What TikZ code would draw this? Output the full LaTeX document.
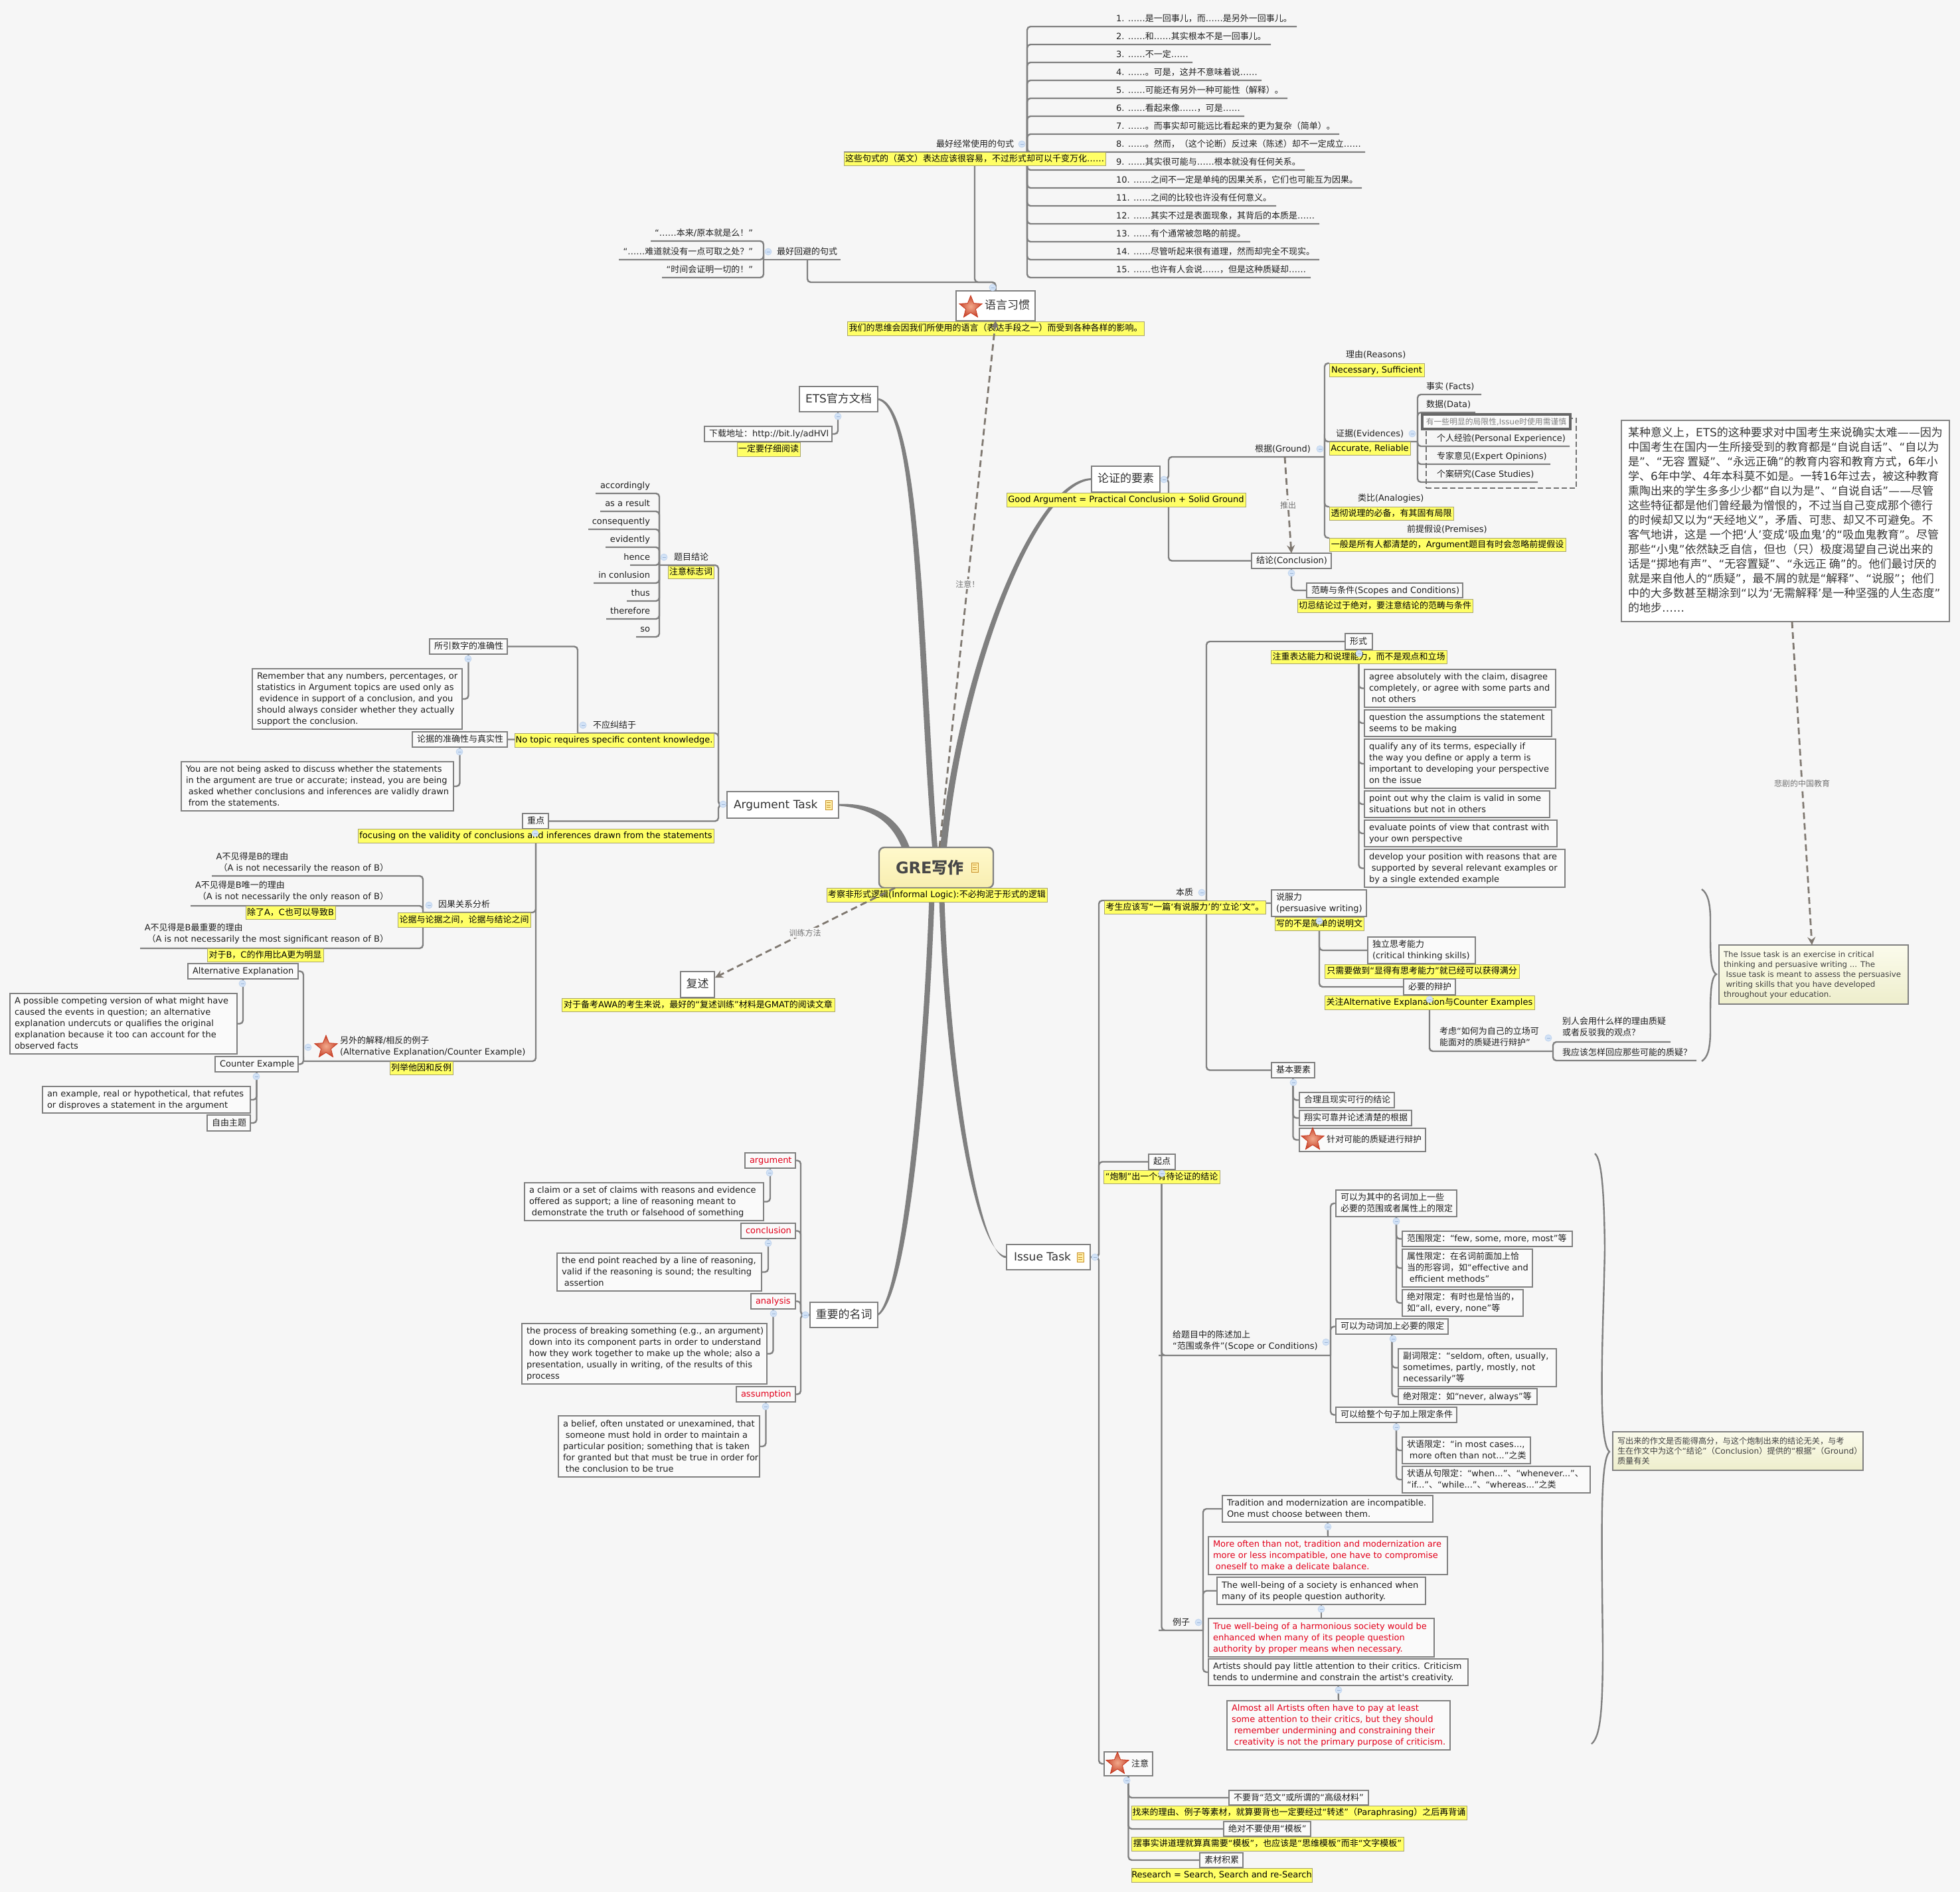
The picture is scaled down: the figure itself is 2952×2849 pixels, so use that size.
\documentclass[tikz,border=0pt]{standalone}
\usepackage{fontspec}
\setmainfont{DejaVu Sans}
\newfontfamily\mmcjk{Noto Sans CJK SC}
\newfontfamily\mmlat{DejaVu Sans}
\usetikzlibrary{shapes.geometric,arrows.meta}
\pgfdeclarelayer{bg}
\pgfsetlayers{bg,main}
% automatic switching between the Latin and the CJK font
\newXeTeXintercharclass\mmcjkclass
\newcount\mmc
\def\mmrange#1#2{\mmc=#1\relax\loop\ifnum\mmc<#2\relax\XeTeXcharclass\mmc=\mmcjkclass\advance\mmc by 1\repeat}
\mmrange{"3000}{"3040}\mmrange{"4E00}{"A000}\mmrange{"FF00}{"FFF0}
\XeTeXcharclass"201C=0 \XeTeXcharclass"201D=0 \XeTeXcharclass"2018=0 \XeTeXcharclass"2019=0 \XeTeXcharclass"2026=0 \XeTeXcharclass"2014=0
\XeTeXinterchartoks 0 \mmcjkclass={\mmcjk}
\XeTeXinterchartoks 4095 \mmcjkclass={\mmcjk}
\XeTeXinterchartoks \mmcjkclass 0={\mmlat}
\XeTeXinterchartoks 4095 0={\mmlat}
\XeTeXinterchartokenstate=1
\definecolor{paper}{HTML}{F6F6F6}
\definecolor{wire}{HTML}{808080}
\definecolor{yellowbg}{HTML}{FFFF66}
\definecolor{redc}{HTML}{E2001A}
\definecolor{relc}{HTML}{7F7870}
\definecolor{F2A98C}{HTML}{F2A98C}\definecolor{C8472E}{HTML}{C8472E}
\definecolor{C0D4EE}{HTML}{C0D4EE}\definecolor{D2E2F6}{HTML}{D2E2F6}\definecolor{9DB6D8}{HTML}{9DB6D8}
\definecolor{C8902A}{HTML}{C8902A}\definecolor{FFEFA8}{HTML}{FFEFA8}
\definecolor{FFF9CC}{HTML}{FFF9CC}\definecolor{F8EEB0}{HTML}{F8EEB0}
\definecolor{FBFBEC}{HTML}{FBFBEC}\definecolor{EEEECC}{HTML}{EEEECC}
\newlength\pxu \pxu=0.5pt
\newlength\nbw
\newcommand\ind{\hspace*{0.3em}}
\tikzset{
  base/.style={rectangle,inner sep=0pt,outer sep=0pt,text=black!88,font=\fontsize{6.5}{8.5}\selectfont},
  txt/.style={base},
  bx/.style={base,draw=wire,line width=1.2pt,fill=paper!50!white},
  tp/.style={base,draw=wire,line width=1.2pt,fill=white,font=\fontsize{8.5}{11}\selectfont,text=black!80},
  notest/.style={base,draw=black!25!yellow!45!gray,line width=0.4pt,fill=yellowbg,text=black},
  rootst/.style={base,draw=black!50,line width=1.2pt,rounded corners=4pt,top color=FFF9CC,bottom color=F8EEB0,font=\fontsize{12}{14}\selectfont\bfseries,text=black!72},
  ln/.style={draw=wire,line width=1.2pt,rounded corners=2.5pt},
  rel/.style={draw=relc,line width=1.4pt,dash pattern=on 5pt off 3pt},
  rellab/.style={base,text=black!55,fill=paper,font=\fontsize{6}{7.5}\selectfont,inner sep=1pt},
  bracest/.style={draw=wire,line width=1.2pt},
  mb/.style={fill=wire},
  starst/.style={star,star points=5,star point ratio=2.3,minimum size=18pt,inner sep=0pt,draw=black!20!red!60!brown,line width=0.4pt,inner color=F2A98C,outer color=C8472E},
  fold/.pic={\draw[draw=C0D4EE,fill=D2E2F6,line width=0.4pt] (0,0) circle (5);\draw[draw=9DB6D8,line width=0.3pt] (-2.5,0)--(2.5,0);},
  noteic/.pic={\draw[draw=C8902A,fill=FFEFA8,line width=0.5pt] (-5,-7) rectangle (5,7);\draw[draw=C8902A,line width=0.4pt] (-3,-3.5)--(3,-3.5) (-3,0)--(3,0) (-3,3.5)--(3,3.5);},
  relarrow/.style={-{Stealth[length=6pt,width=6pt,inset=2pt]}},
}
% name, style, align, x0, y0, x1, y1, pad, text
\newcommand\mmNode[9]{%
  \pgfmathsetlength\nbw{((#6)-(#4))*0.5pt}%
  \node[#2,minimum width={((#6)-(#4))*0.5pt},minimum height={((#7)-(#5))*0.5pt}] (#1) at ({((#4)+(#6))/2},{((#5)+(#7))/2})
    {\makebox[\nbw][#3]{\hspace*{#8\pxu}\raisebox{-0.5pt}[\height][\depth]{\begin{tabular}{@{}l@{}}#9\end{tabular}}\hspace*{#8\pxu}}};}
\newcommand\mmBox[6]{\mmNode{#1}{bx}{l}{#2}{#3}{#4}{#5}{7}{#6}}
\newcommand\mmRed[6]{\mmNode{#1}{bx,text=redc}{l}{#2}{#3}{#4}{#5}{7}{#6}}
\newcommand\mmNote[6]{\mmNode{#1}{notest}{c}{#2}{#3}{#4}{#5}{0}{#6}}
\newcommand\mmText[8]{\mmNode{#1}{txt}{#2}{#3}{#4}{#5}{#6}{#7}{#8}}
\newcommand\mmU[7]{\mmNode{#1}{txt}{#2}{#3}{(#4)-24}{#5}{#4}{#6}{#7}}
\newcommand\mmTopic[8]{\mmNode{#1}{tp}{#2}{#3}{#4}{#5}{#6}{#7}{#8}}
\begin{document}
\begin{tikzpicture}[x=0.5pt,y=-0.5pt]
\useasboundingbox (0,0) rectangle (2952,2849);
% ---------- root and main topics
\mmNode{root}{rootst}{l}{1324}{1276}{1496}{1337}{25}{\raisebox{-1.2pt}[\height][\depth]{GRE写作}}
\mmNote{rootn}{1245}{1337}{1577}{1358}{考察非形式逻辑(Informal Logic):不必拘泥于形式的逻辑}
\mmTopic{yy}{l}{1440}{438}{1559}{483}{43}{语言习惯}
\mmNote{yyn}{1276}{484}{1723}{505}{我们的思维会因我们所使用的语言（表达手段之一）而受到各种各样的影响。}
\mmTopic{ets}{c}{1204}{582}{1322}{620}{0}{ETS官方文档}
\mmBox{dw}{1061}{642}{1253}{665}{下载地址：http://bit.ly/adHVl}
\mmNote{dwn}{1110}{666}{1205}{687}{一定要仔细阅读}
\mmTopic{lz}{c}{1644}{702}{1747}{741}{0}{论证的要素}
\mmNote{lzn}{1516}{742}{1876}{763}{Good Argument = Practical Conclusion + Solid Ground}
\mmTopic{arg}{l}{1095}{1192}{1263}{1232}{10}{Argument Task}
\mmTopic{iss}{l}{1516}{1874}{1642}{1912}{11}{Issue Task}
\mmTopic{fs}{c}{1025}{1463}{1076}{1502}{0}{复述}
\mmNote{fsn}{846}{1503}{1257}{1523}{对于备考AWA的考生来说，最好的“复述训练”材料是GMAT的阅读文章}
\mmTopic{nm}{c}{1220}{1961}{1322}{1999}{0}{重要的名词}
% ---------- language habits
\mmU{jx}{l}{1271}{229}{1547}{139}{最好经常使用的句式}
\mmNote{jxn}{1271}{229}{1665}{249}{这些句式的（英文）表达应该很容易，不过形式却可以千变万化……}
\mmU{it1}{l}{1547}{40}{1953}{134}{1. ……是一回事儿，而……是另外一回事儿。}
\mmU{it2}{l}{1547}{67}{1914}{134}{2. ……和……其实根本不是一回事儿。}
\mmU{it3}{l}{1547}{94}{1796}{134}{3. ……不一定……}
\mmU{it4}{l}{1547}{121}{1900}{134}{4. ……。可是，这并不意味着说……}
\mmU{it5}{l}{1547}{148}{1939}{134}{5. ……可能还有另外一种可能性（解释）。}
\mmU{it6}{l}{1547}{175}{1874}{134}{6. ……看起来像……，可是……}
\mmU{it7}{l}{1547}{202}{2017}{134}{7. ……。而事实却可能远比看起来的更为复杂（简单）。}
\mmU{it8}{l}{1547}{229}{2056}{134}{8. ……。然而，（这个论断）反过来（陈述）却不一定成立……}
\mmU{it9}{l}{1547}{256}{1965}{134}{9. ……其实很可能与……根本就没有任何关系。}
\mmU{it10}{l}{1547}{283}{2051}{134}{10. ……之间不一定是单纯的因果关系，它们也可能互为因果。}
\mmU{it11}{l}{1547}{310}{1922}{134}{11. ……之间的比较也许没有任何意义。}
\mmU{it12}{l}{1547}{337}{1987}{134}{12. ……其实不过是表面现象，其背后的本质是……}
\mmU{it13}{l}{1547}{364}{1883}{134}{13. ……有个通常被忽略的前提。}
\mmU{it14}{l}{1547}{391}{1987}{134}{14. ……尽管听起来很有道理，然而却完全不现实。}
\mmU{it15}{l}{1547}{418}{1974}{134}{15. ……也许有人会说……，但是这种质疑却……}
\mmU{bh}{l}{1150}{391}{1266}{20}{最好回避的句式}
\mmU{bh1}{r}{980}{363}{1150}{16}{“……本来/原本就是么！”}
\mmU{bh2}{r}{932}{391}{1150}{16}{“……难道就没有一点可取之处？”}
\mmU{bh3}{r}{997}{418}{1150}{16}{“时间会证明一切的！”}
% ---------- argument elements
\mmU{gd}{r}{1760}{688}{1995}{21}{根据(Ground)}
\mmText{ly}{l}{2020}{522}{2140}{546}{7}{理由(Reasons)}
\mmNote{lyn}{2002}{547}{2145}{567}{Necessary, Sufficient}
\mmU{zj}{l}{1995}{665}{2135}{17}{证据(Evidences)}
\mmNote{zjn}{2002}{665}{2124}{685}{Accurate, Reliable}
\mmU{f1}{l}{2135}{594}{2231}{13}{事实 (Facts)}
\mmU{f2}{l}{2135}{621}{2222}{13}{数据(Data)}
\mmU{f3}{l}{2135}{672}{2364}{29}{个人经验(Personal Experience)}
\mmU{f4}{l}{2135}{699}{2335}{29}{专家意见(Expert Opinions)}
\mmU{f5}{l}{2135}{726}{2316}{29}{个案研究(Case Studies)}
\mmText{lb}{l}{2038}{738}{2150}{762}{7}{类比(Analogies)}
\mmNote{lbn}{2002}{763}{2189}{783}{透彻说理的必备，有其固有局限}
\mmText{qt}{l}{2112}{785}{2245}{809}{7}{前提假设(Premises)}
\mmNote{qtn}{2002}{810}{2358}{830}{一般是所有人都清楚的，Argument题目有时会忽略前提假设}
\mmBox{jl}{1885}{833}{2005}{856}{结论(Conclusion)}
\mmBox{fc}{1968}{878}{2203}{900}{范畴与条件(Scopes and Conditions)}
\mmNote{fcn}{1954}{902}{2218}{922}{切忌结论过于绝对，要注意结论的范畴与条件}
\node[draw=black!55,line width=1.4pt,dash pattern=on 4pt off 2pt,minimum width=113pt,minimum height=52.5pt,inner sep=0pt] (bd) at (2261,682.5) {};
\mmNode{bdt}{bx,draw=black!60,line width=1.6pt,text=black!50,font=\fontsize{5.9}{7.5}\selectfont}{c}{2142}{624}{2365}{646}{0}{有一些明显的局限性,Issue时使用需谨慎}
% ---------- long notes
\mmNode{nt}{bx,fill=white,font=\fontsize{8.5}{11}\selectfont,text=black!78}{l}{2442}{633}{2936}{936}{10}{某种意义上，ETS的这种要求对中国考生来说确实太难——因为\\中国考生在国内一生所接受到的教育都是“自说自话”、“自以为\\是”、“无容 置疑”、“永远正确”的教育内容和教育方式，6年小\\学、6年中学、4年本科莫不如是。一转16年过去，被这种教育\\熏陶出来的学生多多少少都“自以为是”、“自说自话”——尽管\\这些特征都是他们曾经最为憎恨的，不过当自己变成那个德行\\的时候却又以为“天经地义”，矛盾、可悲、却又不可避免。不\\客气地讲，这是 一个把‘人’变成‘吸血鬼’的“吸血鬼教育”。尽管\\那些“小鬼”依然缺乏自信，但也（只）极度渴望自己说出来的\\话是“掷地有声”、“无容置疑”、“永远正 确”的。他们最讨厌的\\就是来自他人的“质疑”，最不屑的就是“解释”、“说服”；他们\\中的大多数甚至糊涂到“以为‘无需解释’是一种坚强的人生态度”\\的地步……}
\mmNode{nb}{bx,top color=FBFBEC,bottom color=EEEECC,font=\fontsize{5.9}{7.5}\selectfont,text=black!75}{l}{2589}{1423}{2874}{1512}{7}{The Issue task is an exercise in critical\\thinking and persuasive writing ... The\\\ind Issue task is meant to assess the persuasive\\\ind writing skills that you have developed\\throughout your education.}
\mmNode{nc}{bx,top color=FBFBEC,bottom color=EEEECC,font=\fontsize{6.1}{7.5}\selectfont,text=black!75}{l}{2429}{2156}{2806}{2214}{7}{写出来的作文是否能得高分，与这个炮制出来的结论无关，与考\\生在作文中为这个“结论”（Conclusion）提供的“根据”（Ground）\\质量有关}
% ---------- argument task
\mmU{tj}{l}{993}{851}{1082}{22}{题目结论}
\mmNote{tjn}{1006}{852}{1075}{871}{注意标志词}
\mmU{a1}{r}{897}{743}{993}{14}{accordingly}
\mmU{a2}{r}{904}{770}{993}{14}{as a result}
\mmU{a3}{r}{886}{797}{993}{14}{consequently}
\mmU{a4}{r}{912}{824}{993}{14}{evidently}
\mmU{a5}{r}{949}{851}{993}{14}{hence}
\mmU{a6}{r}{894}{878}{993}{14}{in conlusion}
\mmU{a7}{r}{944}{905}{993}{14}{thus}
\mmU{a8}{r}{913}{932}{993}{14}{therefore}
\mmU{a9}{r}{958}{959}{993}{14}{so}
\mmBox{sy}{647}{962}{764}{985}{所引数字的准确性}
\mmBox{rem}{380}{1007}{696}{1098}{Remember that any numbers, percentages, or\\statistics in Argument topics are used only as\\\ind evidence in support of a conclusion, and you\\should always consider whether they actually\\support the conclusion.}
\mmU{bj}{l}{870}{1104}{1082}{23}{不应纠结于}
\mmNote{bjn}{775}{1104}{1075}{1125}{No topic requires specific content knowledge.}
\mmBox{lj}{621}{1102}{764}{1125}{论据的准确性与真实性}
\mmBox{you}{273}{1147}{683}{1221}{You are not being asked to discuss whether the statements\\in the argument are true or accurate; instead, you are being\\\ind asked whether conclusions and inferences are validly drawn\\\ind from the statements.}
\mmBox{zd}{787}{1225}{826}{1248}{重点}
\mmNote{zdn}{539}{1248}{1075}{1269}{focusing on the validity of conclusions and inferences drawn from the statements}
\mmU{yg}{l}{637}{1374}{807}{23}{因果关系分析}
\mmNote{ygn}{599}{1374}{799}{1396}{论据与论据之间，论据与结论之间}
\mmText{y1}{r}{319}{1279}{637}{1319}{52}{A不见得是B的理由\\\ind（A is not necessarily the reason of B）}
\mmText{y2}{r}{287}{1319}{637}{1364}{52}{A不见得是B唯一的理由\\\ind（A is not necessarily the only reason of B）}
\mmNote{y2n}{370}{1364}{505}{1384}{除了A，C也可以导致B}
\mmText{y3}{r}{211}{1383}{637}{1428}{52}{A不见得是B最重要的理由\\\ind（A is not necessarily the most significant reason of B）}
\mmNote{y3n}{312}{1428}{487}{1448}{对于B，C的作用比A更为明显}
\mmText{lw}{l}{457}{1553}{807}{1598}{55}{另外的解释/相反的例子\\(Alternative Explanation/Counter Example)}
\mmNote{lwn}{587}{1598}{682}{1618}{列举他因和反例}
\node[starst] (st1) at (491,1577) {};
\mmBox{alt}{283}{1451}{449}{1474}{Alternative Explanation}
\mmBox{apo}{15}{1496}{357}{1587}{A possible competing version of what might have\\caused the events in question; an alternative\\explanation undercuts or qualifies the original\\explanation because it too can account for the\\observed facts}
\mmBox{ce}{324}{1591}{449}{1614}{Counter Example}
\mmBox{ane}{64}{1636}{377}{1676}{an example, real or hypothetical, that refutes\\or disproves a statement in the argument}
\mmBox{zz}{312}{1679}{377}{1703}{自由主题}
% ---------- important terms
\mmRed{t1}{1122}{1736}{1198}{1759}{argument}
\mmBox{d1}{790}{1781}{1150}{1838}{a claim or a set of claims with reasons and evidence\\offered as support; a line of reasoning meant to\\\ind demonstrate the truth or falsehood of something}
\mmRed{t2}{1116}{1842}{1198}{1865}{conclusion}
\mmBox{d2}{839}{1887}{1147}{1944}{the end point reached by a line of reasoning,\\valid if the reasoning is sound; the resulting\\\ind assertion}
\mmRed{t3}{1131}{1948}{1198}{1971}{analysis}
\mmBox{d3}{786}{1993}{1155}{2084}{the process of breaking something (e.g., an argument)\\\ind down into its component parts in order to understand\\\ind how they work together to make up the whole; also a\\presentation, usually in writing, of the results of this\\process}
\mmRed{t4}{1109}{2088}{1198}{2111}{assumption}
\mmBox{d4}{841}{2132}{1144}{2224}{a belief, often unstated or unexamined, that\\\ind someone must hold in order to maintain a\\particular position; something that is taken\\for granted but that must be true in order for\\\ind the conclusion to be true}
% ---------- issue task
\mmU{bz}{l}{1655}{1356}{1817}{116}{本质}
\mmNote{bzn}{1663}{1356}{1906}{1376}{考生应该写“一篇‘有说服力’的‘立论’文”。}
\mmBox{xs}{2026}{954}{2067}{978}{形式}
\mmNote{xsn}{1914}{979}{2179}{999}{注重表达能力和说理能力，而不是观点和立场}
\mmBox{x1}{2055}{1008}{2343}{1065}{agree absolutely with the claim, disagree\\completely, or agree with some parts and\\\ind not others}
\mmBox{x2}{2055}{1069}{2337}{1109}{question the assumptions the statement\\seems to be making}
\mmBox{x3}{2055}{1113}{2343}{1187}{qualify any of its terms, especially if\\the way you define or apply a term is\\important to developing your perspective\\on the issue}
\mmBox{x4}{2055}{1191}{2334}{1231}{point out why the claim is valid in some\\situations but not in others}
\mmBox{x5}{2055}{1235}{2345}{1275}{evaluate points of view that contrast with\\your own perspective}
\mmBox{x6}{2055}{1279}{2357}{1336}{develop your position with reasons that are\\\ind supported by several relevant examples or\\by a single extended example}
\mmBox{sf}{1915}{1340}{2058}{1380}{说服力\\(persuasive writing)}
\mmNote{sfn}{1920}{1381}{2054}{1401}{写的不是简单的说明文}
\mmBox{dl}{2060}{1411}{2222}{1451}{独立思考能力\\(critical thinking skills)}
\mmNote{dln}{1995}{1452}{2288}{1473}{只需要做到“显得有思考能力”就已经可以获得满分}
\mmBox{by}{2114}{1474}{2192}{1498}{必要的辩护}
\mmNote{byn}{1995}{1499}{2311}{1520}{关注Alternative Explanation与Counter Examples}
\mmText{kl}{l}{2153}{1540}{2339}{1583}{15}{考虑“如何为自己的立场可\\能面对的质疑进行辩护”}
\mmText{k1}{l}{2339}{1525}{2516}{1569}{14}{别人会用什么样的理由质疑\\或者反驳我的观点？}
\mmU{k2}{l}{2339}{1597}{2555}{14}{我应该怎样回应那些可能的质疑？}
\mmBox{jb}{1915}{1600}{1980}{1623}{基本要素}
\mmBox{j1}{1957}{1645}{2100}{1668}{合理且现实可行的结论}
\mmBox{j2}{1957}{1672}{2126}{1695}{翔实可靠并论述清楚的根据}
\mmNode{j3}{bx}{l}{1957}{1699}{2147}{1734}{41}{针对可能的质疑进行辩护}
\node[starst] (st2) at (1977,1716) {};
\mmBox{qd}{1730}{1738}{1770}{1761}{起点}
\mmNote{qdn}{1662}{1762}{1837}{1782}{“炮制”出一个有待论证的结论}
\mmText{gs}{l}{1750}{1996}{2004}{2041}{16}{给题目中的陈述加上\\“范围或条件”(Scope or Conditions)}
\mmBox{g1}{2012}{1792}{2194}{1832}{可以为其中的名词加上一些\\必要的范围或者属性上的限定}
\mmBox{g1a}{2112}{1854}{2368}{1877}{范围限定：“few, some, more, most”等}
\mmBox{g1b}{2112}{1881}{2308}{1938}{属性限定：在名词前面加上恰\\当的形容词，如“effective and\\\ind efficient methods”}
\mmBox{g1c}{2112}{1942}{2294}{1982}{绝对限定：有时也是恰当的，\\如“all, every, none”等}
\mmBox{g2}{2012}{1986}{2181}{2009}{可以为动词加上必要的限定}
\mmBox{g2a}{2106}{2031}{2344}{2088}{副词限定：“seldom, often, usually,\\sometimes, partly, mostly, not\\necessarily”等}
\mmBox{g2b}{2106}{2091}{2315}{2115}{绝对限定：如“never, always”等}
\mmBox{g3}{2012}{2119}{2194}{2142}{可以给整个句子加上限定条件}
\mmBox{g3a}{2112}{2164}{2305}{2204}{状语限定：“in most cases...,\\\ind more often than not...”之类}
\mmBox{g3b}{2112}{2208}{2395}{2248}{状语从句限定：“when...”、“whenever...”、\\“if...”、“while...”、“whereas...”之类}
\mmU{lzi}{l}{1750}{2455}{1812}{16}{例子}
\mmBox{e1}{1841}{2252}{2158}{2292}{Tradition and modernization are incompatible.\\One must choose between them.}
\mmRed{r1}{1820}{2314}{2180}{2371}{More often than not, tradition and modernization are\\more or less incompatible, one have to compromise\\\ind oneself to make a delicate balance.}
\mmBox{e2}{1833}{2375}{2147}{2416}{The well-being of a society is enhanced when\\many of its people question authority.}
\mmRed{r2}{1820}{2437}{2160}{2495}{True well-being of a harmonious society would be\\enhanced when many of its people question\\authority by proper means when necessary.}
\mmBox{e3}{1820}{2498}{2211}{2538}{Artists should pay little attention to their critics. Criticism\\tends to undermine and constrain the artist's creativity.}
\mmRed{r3}{1848}{2561}{2184}{2635}{Almost all Artists often have to pay at least\\some attention to their critics, but they should\\\ind remember undermining and constraining their\\\ind creativity is not the primary purpose of criticism.}
\mmNode{zy}{bx}{l}{1663}{2638}{1736}{2674}{41}{注意}
\node[starst] (st3) at (1683,2656) {};
\mmBox{n1}{1851}{2696}{2061}{2718}{不要背“范文”或所谓的“高级材料”}
\mmNote{n1n}{1704}{2719}{2209}{2740}{找来的理由、例子等素材，就算要背也一定要经过“转述”（Paraphrasing）之后再背诵}
\mmBox{n2}{1843}{2743}{1974}{2765}{绝对不要使用“模板”}
\mmNote{n2n}{1704}{2766}{2114}{2787}{摆事实讲道理就算真需要“模板”，也应该是“思维模板”而非“文字模板”}
\mmBox{n3}{1807}{2790}{1872}{2812}{素材积累}
\mmNote{n3n}{1704}{2813}{1976}{2834}{Research = Search, Search and re-Search}
\node[starst] (st0) at (1462,463) {};
\pic at (1248,1212) {noteic};
\pic at (1627,1893) {noteic};
\pic at (1468,1306) {noteic};
% ---------- connectors behind the nodes
\begin{pgfonlayer}{bg}
\fill[paper] (0,0) rectangle (2952,2849);
% main tapered branches
\fill[mb] ([yshift=0.7pt]ets.east) .. controls (1390,606) and (1391,1000) .. ([xshift=1pt]root.north) -- ([xshift=-3pt]root.north) .. controls (1381,1000) and (1382,612) .. ([yshift=-0.7pt]ets.east);
\fill[mb] ([yshift=0.7pt]lz.west) .. controls (1558,720) and (1445,1000) .. ([xshift=3pt]root.north) -- ([xshift=8pt]root.north) .. controls (1453,1000) and (1564,726) .. ([yshift=-0.7pt]lz.west);
\fill[mb] ([yshift=0.7pt]arg.east) .. controls (1312,1209) and (1352,1226) .. ([xshift=-20pt]root.north) -- ([xshift=-26pt]root.north) .. controls (1340,1232) and (1308,1217) .. ([yshift=-0.7pt]arg.east);
\fill[mb] ([yshift=0.7pt]nm.east) .. controls (1360,1948) and (1391,1600) .. ([xshift=-5pt]root.south) -- ([xshift=-1pt]root.south) .. controls (1399,1600) and (1370,1954) .. ([yshift=-0.7pt]nm.east);
\fill[mb] ([yshift=0.7pt]iss.west) .. controls (1466,1889) and (1421,1600) .. ([xshift=2pt]root.south) -- ([xshift=6pt]root.south) .. controls (1429,1600) and (1474,1897) .. ([yshift=-0.7pt]iss.west);
% language habits
\foreach \i in {1,...,15} \draw[ln] (jx.south east) |- (it\i.south east);
\draw[ln] (jx.south west) -- (jx.south east);
\draw[ln] (yy.north) -- ++(0,-13) -| (jxn.south);
\draw[ln] (yy.north) -- ++(0,-13) -| ([xshift=4pt]bh.south);
\draw[ln] (bh.south west) -- (bh.south east);
\foreach \i in {1,2,3} \draw[ln] (bh.south west) |- (bh\i.south west);
\draw[ln] (ets.south) ++(-1,0) |- (dw.east);
% argument elements
\draw[ln] (lz.east) -| (gd.south west) -- (gd.south east);
\draw[ln] (lz.east) -- ++(13,0) |- (jl.west);
\draw[ln] (jl.south) |- (fc.west);
\draw[ln] (gd.south east) |- (lyn.north west);
\draw[ln] (gd.south east) |- (zj.south west) -- (zj.south east);
\draw[ln] (gd.south east) |- (lbn.north west);
\draw[ln] (gd.south east) |- (qtn.north west);
\foreach \i in {1,...,5} \draw[ln] (zj.south east) |- (f\i.south east);
% argument task
\draw[ln] (arg.west) -| (tj.south east) -- (tj.south west);
\draw[ln] (arg.west) -| (bj.south east) -- (bj.south west);
\draw[ln] (arg.west) -- ++(-13,0) |- (zd.east);
\foreach \i in {1,...,9} \draw[ln] (tj.south west) |- (a\i.south west);
\draw[ln] (bj.south west) |- (sy.east);
\draw[ln] (bj.south west) |- (lj.east);
\draw[ln] (sy.south) |- (rem.east);
\draw[ln] (lj.south) |- (you.east);
\draw[ln] (zdn.south) |- (yg.south east) -- (yg.south west);
\draw[ln] (zdn.south) |- (lw.south west);
\foreach \i in {1,2,3} \draw[ln] (yg.south west) |- (y\i.south west);
\draw[ln] (lw.south west) |- (alt.east);
\draw[ln] (lw.south west) |- (ce.east);
\draw[ln] (alt.south) |- (apo.east);
\draw[ln] (ce.south) |- (ane.east);
\draw[ln] (ce.south) |- (zz.east);
% important terms
\foreach \i in {1,...,4} {\draw[ln] (nm.west) -- ++(-14,0) |- (t\i.east); \draw[ln] (t\i.south) |- (d\i.east);}
% issue task
\draw[ln] (iss.east) -| (bz.south west) -- (bz.south east);
\draw[ln] (iss.east) -- ++(13,0) |- (qd.west);
\draw[ln] (iss.east) -- ++(13,0) |- (zy.west);
\draw[ln] (bz.south east) |- (xs.west);
\draw[ln] (bz.south east) |- (sf.west);
\draw[ln] (bz.south east) |- (jb.west);
\foreach \i in {1,...,6} \draw[ln] (xsn.south) |- (x\i.west);
\draw[ln] (sfn.south) |- (dl.west);
\draw[ln] (sfn.south) |- (by.west);
\draw[ln] (byn.south) |- (kl.south west) -- (kl.south east);
\draw[ln] (kl.south east) |- (k1.south east);
\draw[ln] (kl.south east) |- (k2.south east);
\foreach \i in {1,2,3} \draw[ln] (jb.south) |- (j\i.west);
\draw[ln] (qdn.south) |- (gs.south west) -- (gs.south east);
\draw[ln] (qdn.south) |- (lzi.south west) -- (lzi.south east);
\foreach \i in {1,2,3} \draw[ln] (gs.south east) |- (g\i.west);
\foreach \i in {a,b,c} \draw[ln] (g1.south) |- (g1\i.west);
\foreach \i in {a,b} \draw[ln] (g2.south) |- (g2\i.west);
\foreach \i in {a,b} \draw[ln] (g3.south) |- (g3\i.west);
\foreach \i in {1,2,3} {\draw[ln] (lzi.south east) |- (e\i.west); \draw[ln] (e\i.south) -- (r\i.north);}
\foreach \i in {1,2,3} \draw[ln] (zy.south) |- (n\i.west);
% braces
\draw[bracest] (2563,1339) .. controls (2572,1345) and (2576,1360) .. (2576,1385) .. controls (2576,1430) and (2575,1462) .. (2585,1467) .. controls (2575,1472) and (2576,1510) .. (2576,1550) .. controls (2576,1580) and (2572,1592) .. (2563,1598);
\draw[bracest] (2402,1737) .. controls (2412,1745) and (2416,1790) .. (2417,1880) .. controls (2415,2000) and (2405,2170) .. (2424,2186) .. controls (2410,2200) and (2412,2300) .. (2414,2480) .. controls (2414,2580) and (2410,2615) .. (2397,2626);
\end{pgfonlayer}
% ---------- relationship arrows on top
\coordinate (gdrel) at (1935,688);
\coordinate (ntrel) at (2699,936);
\coordinate (nbrel) at (2729,1423);
\coordinate (fsrel) at (1077,1472);
\draw[rel,relarrow] ([xshift=2.5pt]root.north) -- (yy.south) node[pos=0.5,rellab] (l1) {注意！};
\draw[rel,relarrow] ([xshift=12pt]root.south west) -- (fsrel) node[pos=0.5,rellab] (l2) {训练方法};
\draw[rel,relarrow] (gdrel) -- (jl.north) node[pos=0.5,rellab] (l3) {推出};
\draw[rel,relarrow] (ntrel) -- (nbrel) node[pos=0.5,rellab] (l4) {悲剧的中国教育};
% ---------- fold markers
\foreach \p/\q in {1539/217,1495/433,1157/379,1262/627,1753/722,1988/676,2127/653,1945/863,1000/839,705/992,878/1092,692/1132,1089/1211,806/1255,646/1363,464/1577,365/1481,386/1621,1159/1766,1157/1872,1165/1978,1153/2118,1213/1980,1649/1893,1810/1344,2047/984,1987/1387,2153/1505,2332/1563,1948/1630,1750/1767,1997/2021,2103/1839,2098/2016,2103/2149,2000/2299,1990/2423,2016/2545,1805/2443,1697/2681}
  \pic at (\p,\q) {fold};
\end{tikzpicture}
\end{document}
